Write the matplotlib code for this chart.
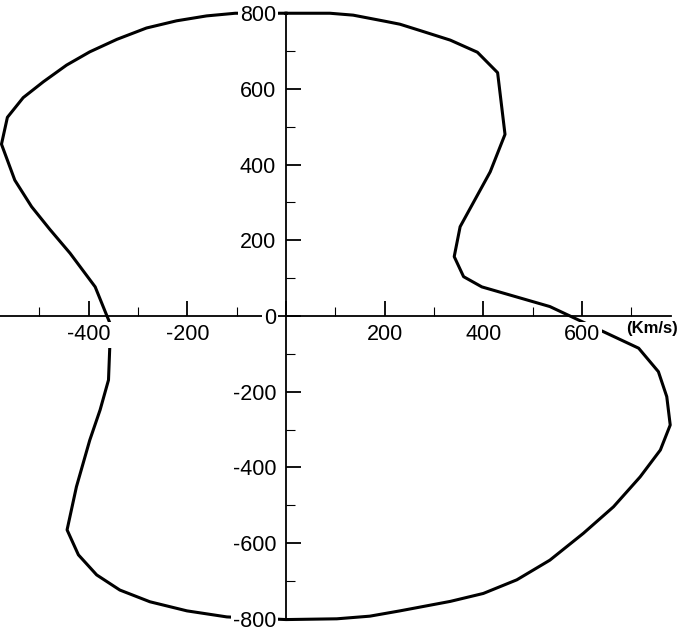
import matplotlib
matplotlib.use("Agg")
import matplotlib.pyplot as plt

plt.rcParams['font.family'] = ['Liberation Sans', 'DejaVu Sans']

# velocity curve, clockwise from the top (Km/s)
vx = [0, 89, 136, 204, 231, 275, 333, 388, 429, 444, 414, 353, 341, 360, 397,
      535, 715, 755, 772, 779, 759, 718, 664, 603, 535, 468, 400, 333,
      231, 170, 103, 0,
      -120, -201, -276, -337, -384, -421, -444, -425, -398, -377, -360, -357,
      -357, -364, -387, -438, -479, -516, -550, -577, -565, -533, -492, -445,
      -398, -343, -283, -222, -161, -103, 0]
vy = [800, 800, 795, 778, 771, 753, 729, 697, 643, 480, 381, 236, 157, 104, 77,
      25, -85, -147, -213, -288, -354, -425, -504, -574, -645, -697, -733, -754,
      -779, -793, -800, -802,
      -795, -779, -755, -724, -684, -631, -565, -451, -328, -248, -169, -68,
      -19, 3, 77, 166, 229, 289, 359, 454, 525, 577, 619, 663,
      698, 731, 761, 780, 793, 800, 800]

xticks = [-400, -200, 0, 200, 400, 600]
xlabels = ['-400', '-200', '', '200', '400', '600']
xminor = [-500, -300, -100, 100, 300, 500, 700]
yticks = [-800, -600, -400, -200, 0, 200, 400, 600, 800]
ylabels = ['-800', '-600', '-400', '-200', '0', '200', '400', '600', '800']
yminor = [-700, -500, -300, -100, 100, 300, 500, 700]

fig = plt.figure(figsize=(6.86, 6.33), dpi=100)
ax = fig.add_axes([0, 0, 1, 1])
ax.set_axisbelow(False)

ax.plot(vx, vy, color='black', lw=2.2, zorder=2)

ax.set_xlim(-580, 811)
ax.set_ylim(-837.5, 835)

# axes crossing at the origin
for s in ['top', 'right']:
    ax.spines[s].set_visible(False)
ax.spines['left'].set_position(('data', 0))
ax.spines['bottom'].set_position(('data', 0))
ax.spines['left'].set_bounds(-800, 800)
ax.spines['bottom'].set_bounds(-580, 780)
ax.spines['left'].set_linewidth(1.3)
ax.spines['bottom'].set_linewidth(1.3)

ax.set_xticks(xticks, xlabels)
ax.set_xticks(xminor, minor=True)
ax.set_yticks(yticks, ylabels)
ax.set_yticks(yminor, minor=True)

ax.tick_params(which='both', direction='in', labelsize=15.5)
ax.tick_params(which='major', length=11, width=1.3)
ax.tick_params(which='minor', length=6.5, width=0.8)
ax.tick_params(axis='x', pad=6)
ax.tick_params(axis='y', pad=7.2)

for lbl in ax.get_xticklabels() + ax.get_yticklabels():
    lbl.set_bbox(dict(facecolor='white', edgecolor='none', pad=1.5))

ax.text(690, -34, '(Km/s)', fontsize=12, fontweight='bold', va='center', ha='left')

fig.savefig('out.png', dpi=100)
